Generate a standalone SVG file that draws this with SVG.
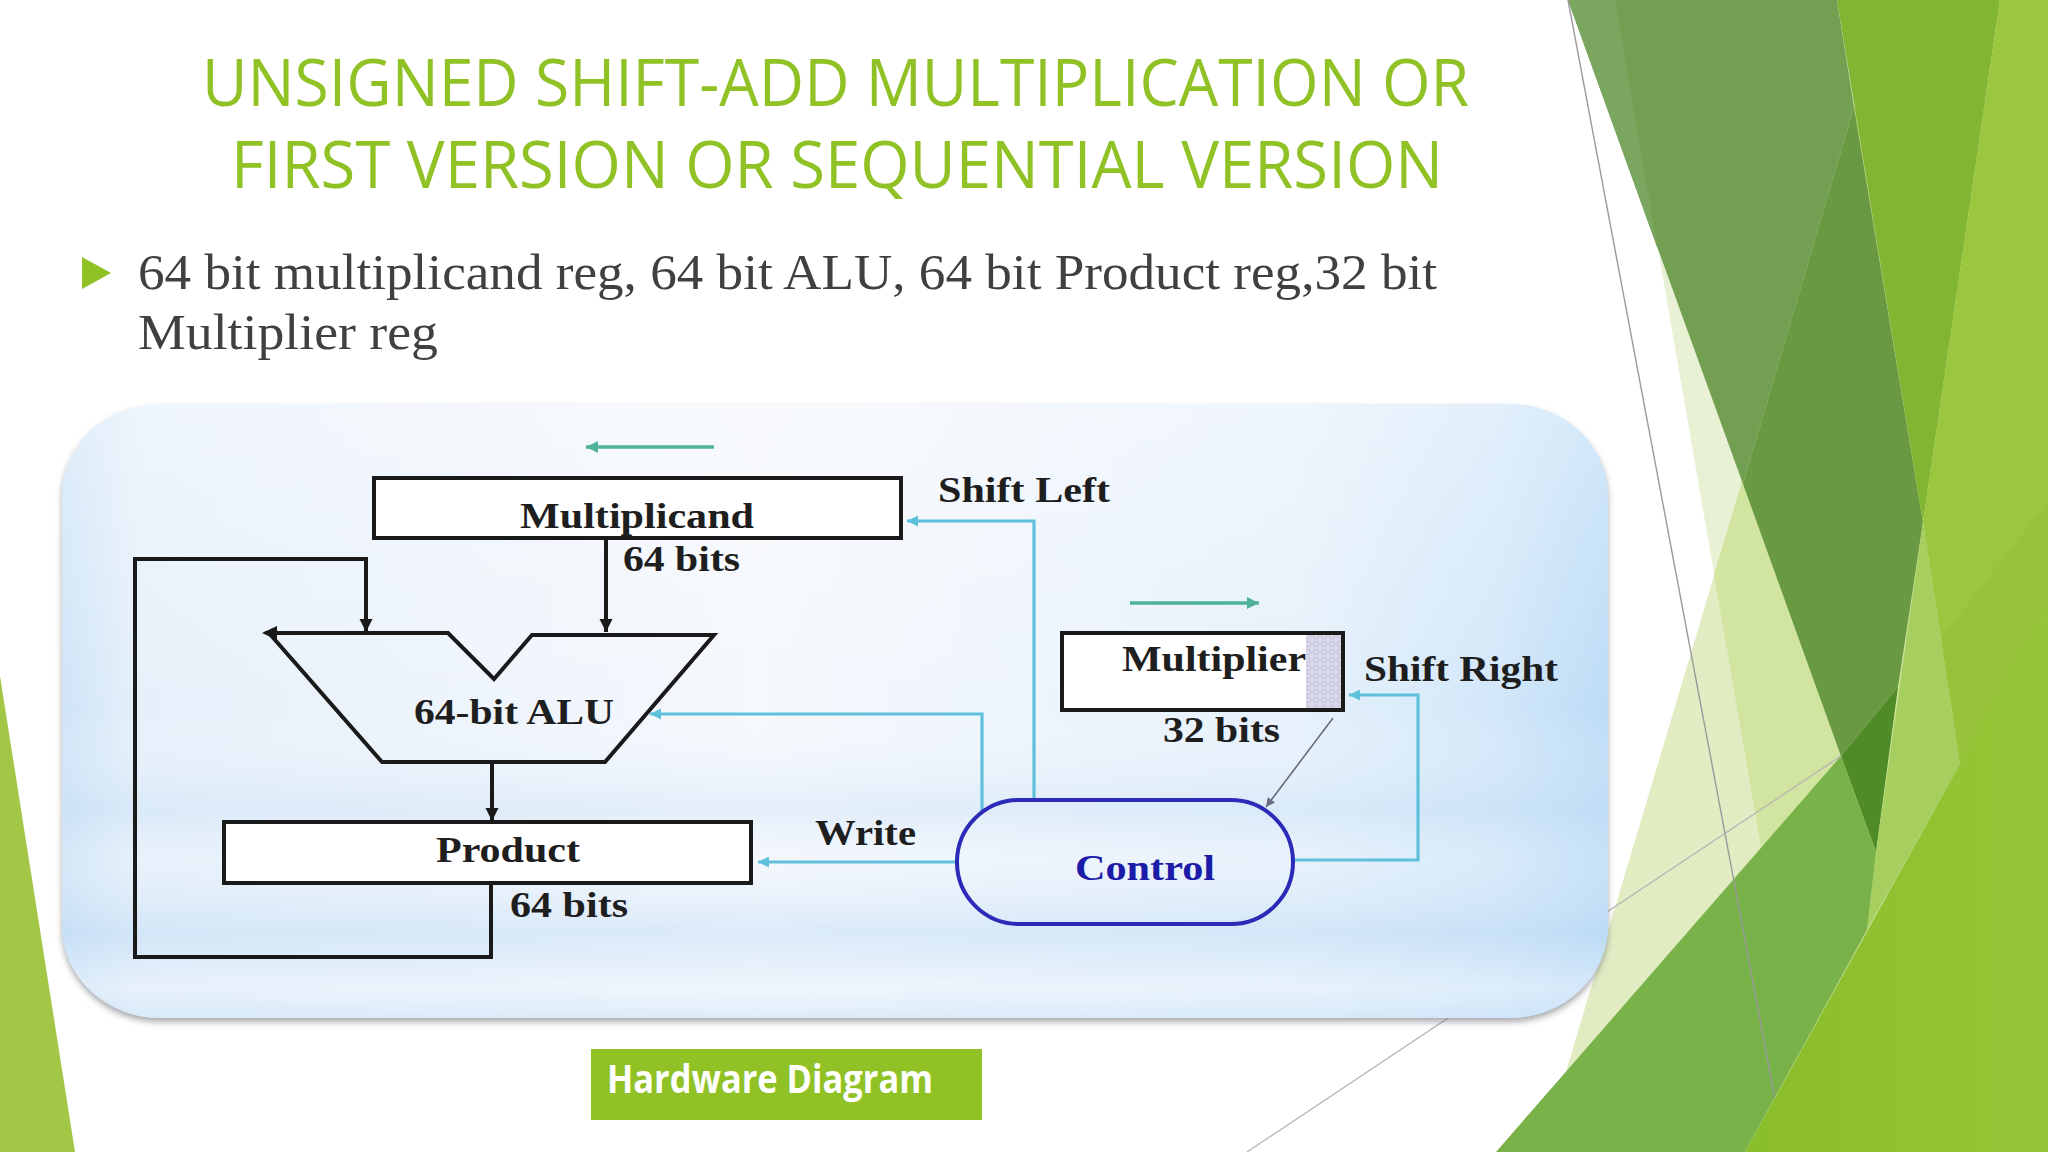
<svg xmlns="http://www.w3.org/2000/svg" width="2048" height="1152" viewBox="0 0 2048 1152">
<defs>
<style>
.lbl{font-family:"Liberation Serif","Times New Roman",serif;font-weight:bold;font-size:35px;fill:#1e1e1e}
.blk{fill:none;stroke:#1a1a1a;stroke-width:4}
.box{fill:#ffffff;stroke:#1a1a1a;stroke-width:4}
.cy{fill:none;stroke:#5fc0dc;stroke-width:3.2}
.tl{fill:none;stroke:#4fb39b;stroke-width:3.5}
.title{font-family:"Open Sans","Noto Sans",sans-serif;font-size:66px;fill:#90c226}
.body{font-family:"Liberation Serif","DejaVu Serif",serif;font-size:50px;fill:#404040}
</style>
<marker id="ab" viewBox="0 0 10 10" refX="10" refY="5" markerUnits="userSpaceOnUse" markerWidth="13" markerHeight="14" orient="auto"><path d="M0,0 L10,5 L0,10 z" fill="#1a1a1a"/></marker>
<marker id="ac" viewBox="0 0 10 10" refX="10" refY="5" markerUnits="userSpaceOnUse" markerWidth="12" markerHeight="11" orient="auto"><path d="M0,0 L10,5 L0,10 z" fill="#5fc0dc"/></marker>
<marker id="at" viewBox="0 0 10 10" refX="10" refY="5" markerUnits="userSpaceOnUse" markerWidth="13" markerHeight="12" orient="auto"><path d="M0,0 L10,5 L0,10 z" fill="#4fb39b"/></marker>
<marker id="ag" viewBox="0 0 10 10" refX="10" refY="5" markerUnits="userSpaceOnUse" markerWidth="10" markerHeight="9" orient="auto"><path d="M0,0 L10,5 L0,10 z" fill="#6a6a80"/></marker>
<linearGradient id="pbase" x1="0" y1="0" x2="1" y2="0">
<stop offset="0" stop-color="#cfe4f7"/>
<stop offset="0.05" stop-color="#e6f0fa"/>
<stop offset="0.45" stop-color="#f5f8fd"/>
<stop offset="0.8" stop-color="#e6f1fb"/>
<stop offset="0.93" stop-color="#d2e7f9"/>
<stop offset="1" stop-color="#bcdcf6"/>
</linearGradient>
<linearGradient id="pband" x1="0" y1="0" x2="0" y2="1">
<stop offset="0" stop-color="#ffffff" stop-opacity="0.35"/>
<stop offset="0.5" stop-color="#ffffff" stop-opacity="0"/>
<stop offset="0.66" stop-color="#c2dcf3" stop-opacity="0.35"/>
<stop offset="0.74" stop-color="#eef5fc" stop-opacity="0.2"/>
<stop offset="0.86" stop-color="#bcd9f3" stop-opacity="0.45"/>
<stop offset="0.95" stop-color="#eaf3fc" stop-opacity="0.5"/>
<stop offset="1" stop-color="#cfe5f8" stop-opacity="0.6"/>
</linearGradient>
<linearGradient id="lime" x1="0" y1="0" x2="1" y2="0">
<stop offset="0" stop-color="#8abd2a"/>
<stop offset="1" stop-color="#96c637"/>
</linearGradient>
<pattern id="dots" width="8" height="8" patternUnits="userSpaceOnUse">
<rect width="8" height="8" fill="#d8d8ea"/>
<circle cx="4" cy="4" r="2.6" fill="none" stroke="#c2c2dc" stroke-width="1"/>
</pattern>
<filter id="sh" x="-5%" y="-5%" width="110%" height="115%">
<feDropShadow dx="0" dy="4" stdDeviation="3" flood-color="#6f7378" flood-opacity="0.6"/>
</filter>
</defs>

<rect width="2048" height="1152" fill="#ffffff"/>

<g id="background">
<polygon points="1615,0 2048,0 2048,1152 1814,1152" fill="#e8f1d3"/>
<polygon points="1854,107 2048,107 2048,1152 1542,1152" fill="#e1ecc3"/>
<polygon points="1854,107 2048,107 2048,1152 1814,1152 1714,575" fill="#d1e5a1"/>
<polygon points="1568,0 1837,0 1854,107 1743,484" fill="#739f53"/>
<polygon points="1568,0 1615,0 1658,250" fill="#7ba65f"/>
<polygon points="1854,107 1923,522 1898,687 1841,756 1743,484" fill="#6a9944"/>
<polygon points="1841,756 1898,687 1876,852" fill="#4f8b26"/>
<polygon points="1837,0 2000,0 1923,522" fill="#82b532"/>
<polygon points="2000,0 2048,0 2048,605 1960,764 1923,522" fill="#9bc63f"/>
<polygon points="1941,638 2048,502 2048,605 1960,764" fill="#96c33a"/>
<polygon points="1923,522 1960,764 1867,930 1876,852" fill="#a6cf60"/>
<polygon points="1496,1152 1841,756 1876,852 1867,930 1745,1152" fill="#7ab24a"/>
<line x1="1568" y1="0" x2="1785" y2="1152" stroke="#9a9a9a" stroke-width="1.4"/>
<line x1="1247" y1="1152" x2="1841" y2="756" stroke="#b4b4b4" stroke-width="1.3"/>
<polygon points="2048,605 2048,1152 1745,1152" fill="url(#lime)"/>
<polygon points="0,676 75,1152 0,1152" fill="#a2c645"/>
</g>

<g id="title">
<text class="title" x="202" y="106" textLength="1267" lengthAdjust="spacingAndGlyphs">UNSIGNED SHIFT-ADD MULTIPLICATION OR</text>
<text class="title" x="231" y="188" textLength="1212" lengthAdjust="spacingAndGlyphs">FIRST VERSION OR SEQUENTIAL VERSION</text>
</g>

<g id="bullet">
<polygon points="82,257 111,273 82,289" fill="#90c226"/>
<text class="body" x="138" y="289" textLength="1299" lengthAdjust="spacingAndGlyphs">64 bit multiplicand reg, 64 bit ALU, 64 bit Product reg,32 bit</text>
<text class="body" x="138" y="349" textLength="300" lengthAdjust="spacingAndGlyphs">Multiplier reg</text>
</g>

<g id="panel">
<rect x="62" y="404" width="1546" height="614" rx="98" ry="92" fill="url(#pbase)" filter="url(#sh)"/>
<rect x="62" y="404" width="1546" height="614" rx="98" ry="92" fill="url(#pband)"/>
</g>

<g id="connectors">
<line class="tl" x1="714" y1="447" x2="586" y2="447" marker-end="url(#at)"/>
<line class="tl" x1="1130" y1="603" x2="1259" y2="603" marker-end="url(#at)"/>
<line class="blk" x1="606" y1="538" x2="606" y2="632" marker-end="url(#ab)"/>
<polyline class="blk" points="491,883 491,957 135,957 135,559 366,559 366,632" marker-end="url(#ab)"/>
<line class="blk" x1="492" y1="762" x2="492" y2="821" marker-end="url(#ab)"/>
<line class="cy" x1="957" y1="862" x2="758" y2="862" marker-end="url(#ac)"/>
<polyline class="cy" points="982,813 982,714 650,714" marker-end="url(#ac)"/>
<polyline class="cy" points="1034,801 1034,521 907,521" marker-end="url(#ac)"/>
<polyline class="cy" points="1293,860 1418,860 1418,695 1349,695" marker-end="url(#ac)"/>
<line x1="1333" y1="718" x2="1266" y2="807" stroke="#6a6a80" stroke-width="1.6" marker-end="url(#ag)"/>
</g>

<g id="multiplicand">
<rect class="box" x="374" y="478" width="527" height="60"/>
<text class="lbl" x="520" y="528" textLength="234" lengthAdjust="spacingAndGlyphs">Multiplicand</text>
<text class="lbl" x="623" y="571" textLength="117" lengthAdjust="spacingAndGlyphs">64 bits</text>
</g>

<g id="alu">
<polygon class="blk" points="269,633 448,633 494,679 532,635 714,635 605,762 382,762 269,633" stroke-linejoin="miter"/>
<polygon points="262,633 277,626 277,640" fill="#1a1a1a"/>
<text class="lbl" x="414" y="724" textLength="200" lengthAdjust="spacingAndGlyphs">64-bit ALU</text>
</g>

<g id="product">
<rect class="box" x="224" y="822" width="527" height="61"/>
<text class="lbl" x="436" y="862" textLength="144" lengthAdjust="spacingAndGlyphs">Product</text>
<text class="lbl" x="510" y="917" textLength="118" lengthAdjust="spacingAndGlyphs">64 bits</text>
</g>

<g id="multiplier">
<rect class="box" x="1062" y="633" width="281" height="77"/>
<rect x="1306" y="635" width="35" height="73" fill="url(#dots)"/>
<text class="lbl" x="1122" y="671" textLength="184" lengthAdjust="spacingAndGlyphs">Multiplier</text>
<text class="lbl" x="1163" y="742" textLength="117" lengthAdjust="spacingAndGlyphs">32 bits</text>
</g>

<g id="control">
<rect x="957" y="800" width="336" height="124" rx="62" ry="62" fill="none" stroke="#2b2bb8" stroke-width="4"/>
<text class="lbl" x="1075" y="880" textLength="140" lengthAdjust="spacingAndGlyphs" style="fill:#1c1ca8">Control</text>
</g>

<g id="labels">
<text class="lbl" x="938" y="502" textLength="172" lengthAdjust="spacingAndGlyphs">Shift Left</text>
<text class="lbl" x="1364" y="681" textLength="194" lengthAdjust="spacingAndGlyphs">Shift Right</text>
<text class="lbl" x="815" y="845" textLength="101" lengthAdjust="spacingAndGlyphs">Write</text>
</g>

<g id="caption">
<rect x="591" y="1049" width="391" height="71" fill="#90c226"/>
<text x="607" y="1093" textLength="326" lengthAdjust="spacingAndGlyphs" style="font-family:'Open Sans','Noto Sans',sans-serif;font-weight:bold;font-size:40px;fill:#ffffff">Hardware Diagram</text>
</g>
</svg>
